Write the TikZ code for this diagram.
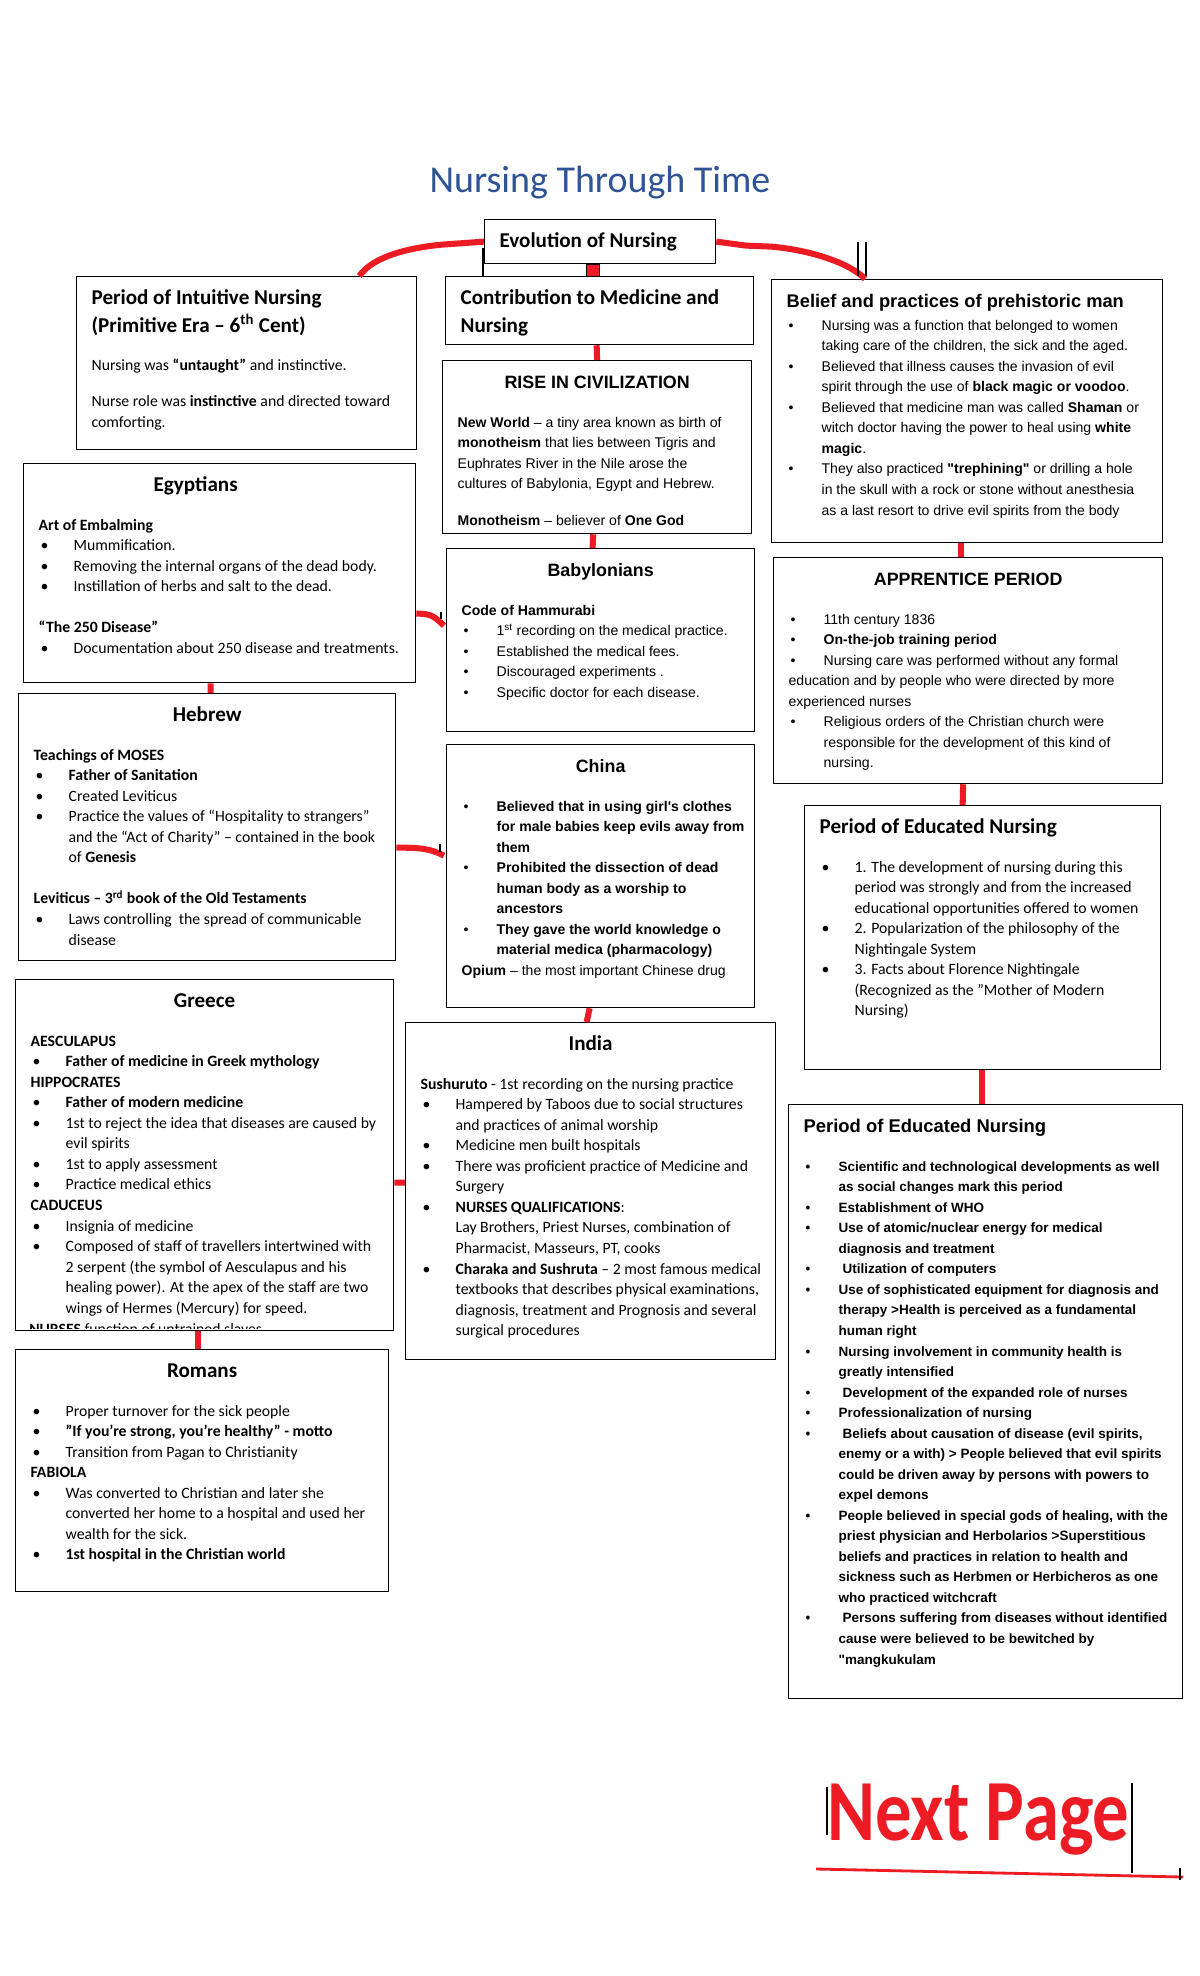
\documentclass[tikz,border=0pt]{standalone}
\usepackage{fontspec}
\usepackage{graphicx}
\setmainfont{Carlito}
\newfontfamily\widefont{Liberation Sans}
\usetikzlibrary{calc}
\definecolor{penred}{HTML}{ED1C24}
\definecolor{titleblue}{HTML}{2F5496}

% one reference pixel
\newdimen\pxu \pxu=0.025cm
\newdimen\padX \padX=15\pxu
\newdimen\padY \padY=9\pxu
\newdimen\ttlgap \ttlgap=18\pxu
\newdimen\blankskip \blankskip=20.5\pxu

\newcommand\calibody{\fontsize{11.2}{14.6}\selectfont}
\newcommand\widebody{\widefont\fontsize{10}{14.6}\selectfont}
\newcommand\bigttl{\fontsize{15}{19.4}\selectfont}
\newcommand\wdttl{\fontsize{12.7}{19.4}\selectfont}

% fixed-size panel text: width, height (px), lines
\newcommand\panelin[3]{\parbox[c][\dimexpr#2\pxu-2\padY\relax][t]{\dimexpr#1\pxu-2\padX\relax}{%
  \hbox to\linewidth{\vtop{\hsize=\dimexpr\linewidth+80\pxu\relax\raggedright#3\par}\hss}}}
\newcommand\panelhead[2][\bigttl]{{\hsize=\linewidth\bfseries#1\rule{0pt}{0.7\baselineskip}#2\par}}
\newcommand\panelchead[2][\bigttl]{{\hsize=\linewidth\centering\bfseries#1\rule{0pt}{0.7\baselineskip}#2\par}}
\newcommand\panelttl[2][\bigttl]{\panelhead[#1]{#2}\vskip\ttlgap}
\newcommand\panelcttl[2][\bigttl]{\panelchead[#1]{#2}\vskip\ttlgap}
\newcommand\bul{\makebox[35\pxu][l]{\hspace{2\pxu}\textbullet}}
\newcommand\cont{\hspace*{35\pxu}}

\tikzset{
  panel/.style={draw=black, line width=0.9pt, fill=white, anchor=north west,
                inner xsep=\padX, inner ysep=\padY, font=\calibody},
  widepanel/.style={panel, font=\widebody},
  redlink/.style={draw=penred, line width=4.3pt},
  cursorline/.style={draw=black, line width=0.8pt},
}

\begin{document}
\begin{tikzpicture}[x=0.025cm, y=-0.025cm]
\fill[white] (0,0) rectangle (1200,1976);
\useasboundingbox (0,0) rectangle (1200,1976);

% ── Title ─────────────────────────────────────────────
\node[font=\fontsize{27}{32}\selectfont, text=titleblue] (title) at (600,183) {Nursing Through Time};

% ── Top row ───────────────────────────────────────────
\node[panel] (evo) at (484,219) {\panelin{231}{44}{\panelhead{Evolution of Nursing}}};

\node[panel] (intuitive) at (76,276) {\panelin{340}{173}{%
  \panelttl{Period of Intuitive Nursing\\(Primitive Era – 6\textsuperscript{th} Cent)}
  Nursing was \textbf{“untaught”} and instinctive.\\[15.5\pxu]
  Nurse role was \textbf{instinctive} and directed toward\\
  comforting.}};

\node[panel] (contrib) at (445,276) {\panelin{308}{68}{%
  \panelhead{Contribution to Medicine and\\Nursing}}};

\node[widepanel] (belief) at (771,279) {\panelin{391}{263}{%
  \panelhead[\fontsize{13}{19.4}\selectfont]{Belief and practices of prehistoric man}\vskip2\pxu
  \bul Nursing was a function that belonged to women\\
  \cont taking care of the children, the sick and the aged.\\
  \bul Believed that illness causes the invasion of evil\\
  \cont spirit through the use of \textbf{black magic or voodoo}.\\
  \bul Believed that medicine man was called \textbf{Shaman} or\\
  \cont witch doctor having the power to heal using \textbf{white}\\
  \cont \textbf{magic}.\\
  \bul They also practiced \textbf{"trephining"} or drilling a hole\\
  \cont in the skull with a rock or stone without anesthesia\\
  \cont as a last resort to drive evil spirits from the body}};

% ── Middle column ─────────────────────────────────────
\node[widepanel] (rise) at (442,360) {\panelin{309}{173}{%
  \panelcttl[\wdttl]{RISE IN CIVILIZATION}
  \textbf{New World} – a tiny area known as birth of\\
  \textbf{monotheism} that lies between Tigris and\\
  Euphrates River in the Nile arose the\\
  cultures of Babylonia, Egypt and Hebrew.\\[16.5\pxu]
  \textbf{Monotheism} – believer of \textbf{One God}}};

\node[widepanel] (babylon) at (446,548) {\panelin{308}{183}{%
  \panelcttl[\wdttl]{Babylonians}
  \textbf{Code of Hammurabi}\\
  \bul 1\textsuperscript{st} recording on the medical practice.\\
  \bul Established the medical fees.\\
  \bul Discouraged experiments .\\
  \bul Specific doctor for each disease.}};

\node[widepanel] (china) at (446,744) {\panelin{308}{263}{%
  \panelcttl[\wdttl]{China}
  \bul \textbf{Believed that in using girl's clothes}\\
  \cont \textbf{for male babies keep evils away from}\\
  \cont \textbf{them}\\
  \bul \textbf{Prohibited the dissection of dead}\\
  \cont \textbf{human body as a worship to}\\
  \cont \textbf{ancestors}\\
  \bul \textbf{They gave the world knowledge o}\\
  \cont \textbf{material medica (pharmacology)}\\
  \textbf{Opium} – the most important Chinese drug}};

\node[panel] (india) at (405,1022) {\panelin{370}{337}{%
  \panelcttl{India}
  \textbf{Sushuruto} - 1st recording on the nursing practice\\
  \bul Hampered by Taboos due to social structures\\
  \cont and practices of animal worship\\
  \bul Medicine men built hospitals\\
  \bul There was proficient practice of Medicine and\\
  \cont Surgery\\
  \bul \textbf{NURSES QUALIFICATIONS}:\\
  \cont Lay Brothers, Priest Nurses, combination of\\
  \cont Pharmacist, Masseurs, PT, cooks\\
  \bul \textbf{Charaka and Sushruta} – 2 most famous medical\\
  \cont textbooks that describes physical examinations,\\
  \cont diagnosis, treatment and Prognosis and several\\
  \cont surgical procedures}};

% ── Left column ───────────────────────────────────────
\node[panel] (egypt) at (23,463) {\panelin{392}{219}{%
  \panelcttl{Egyptians\hspace*{48\pxu}}
  \textbf{Art of Embalming}\\
  \bul Mummification.\\
  \bul Removing the internal organs of the dead body.\\
  \bul Instillation of herbs and salt to the dead.\\[\blankskip]
  \textbf{“The 250 Disease”}\\
  \bul Documentation about 250 disease and treatments.}};

\node[panel] (hebrew) at (18,693) {\panelin{377}{267}{%
  \panelcttl{Hebrew}
  \textbf{Teachings of MOSES}\\
  \bul \textbf{Father of Sanitation}\\
  \bul Created Leviticus\\
  \bul Practice the values of “Hospitality to strangers”\\
  \cont and the “Act of Charity” – contained in the book\\
  \cont of \textbf{Genesis}\\[\blankskip]
  \textbf{Leviticus – 3\textsuperscript{rd} book of the Old Testaments}\\
  \bul Laws controlling\ \ the spread of communicable\\
  \cont disease}};

\node[panel] (greece) at (15,979) {\panelin{378}{351}{%
  \panelcttl{Greece}
  \textbf{AESCULAPUS}\\
  \bul \textbf{Father of medicine in Greek mythology}\\
  \textbf{HIPPOCRATES}\\
  \bul \textbf{Father of modern medicine}\\
  \bul 1st to reject the idea that diseases are caused by\\
  \cont evil spirits\\
  \bul 1st to apply assessment\\
  \bul Practice medical ethics\\
  \textbf{CADUCEUS}\\
  \bul Insignia of medicine\\
  \bul Composed of staff of travellers intertwined with\\
  \cont 2 serpent (the symbol of Aesculapus and his\\
  \cont healing power). At the apex of the staff are two\\
  \cont wings of Hermes (Mercury) for speed.}};

% cut-off last line of Greece
\begin{scope}
  \clip ($(greece.south west)+(0,-3)$) rectangle (greece.north east);
  \node[anchor=base west, font=\calibody, inner sep=0pt] (nurses) at ($(greece.south west)+(14,3)$)
    {\textbf{NURSES} function of untrained slaves};
\end{scope}

\node[panel] (romans) at (15,1349) {\panelin{373}{242}{%
  \panelcttl{Romans}
  \bul Proper turnover for the sick people\\
  \bul \textbf{"If you're strong, you're healthy" - motto}\\
  \bul Transition from Pagan to Christianity\\
  \textbf{FABIOLA}\\
  \bul Was converted to Christian and later she\\
  \cont converted her home to a hospital and used her\\
  \cont wealth for the sick.\\
  \bul \textbf{1st hospital in the Christian world}}};

% ── Right column ──────────────────────────────────────
\node[widepanel] (apprent) at (773,557) {\panelin{389}{226}{%
  \panelcttl[\wdttl]{APPRENTICE PERIOD}
  \bul 11th century 1836\\
  \bul \textbf{On-the-job training period}\\
  \bul Nursing care was performed without any formal\\
  education and by people who were directed by more\\
  experienced nurses\\
  \bul Religious orders of the Christian church were\\
  \cont responsible for the development of this kind of\\
  \cont nursing.}};

\node[panel] (educ1) at (804,805) {\panelin{356}{264}{%
  \panelttl{Period of Educated Nursing}
  \bul 1. The development of nursing during this\\
  \cont period was strongly and from the increased\\
  \cont educational opportunities offered to women\\
  \bul 2. Popularization of the philosophy of the\\
  \cont Nightingale System\\
  \bul 3. Facts about Florence Nightingale\\
  \cont (Recognized as the "Mother of Modern\\
  \cont Nursing)}};

\node[widepanel] (educ2) at (788,1104) {\panelin{394}{594}{%
  \panelttl[\fontsize{13.1}{19.4}\selectfont]{Period of Educated Nursing}
  \bfseries\fontsize{9.6}{14.6}\selectfont
  \bul Scientific and technological developments as well\\
  \cont as social changes mark this period\\
  \bul Establishment of WHO\\
  \bul Use of atomic/nuclear energy for medical\\
  \cont diagnosis and treatment\\
  \bul\hspace{4\pxu}Utilization of computers\\
  \bul Use of sophisticated equipment for diagnosis and\\
  \cont therapy >Health is perceived as a fundamental\\
  \cont human right\\
  \bul Nursing involvement in community health is\\
  \cont greatly intensified\\
  \bul\hspace{4\pxu}Development of the expanded role of nurses\\
  \bul Professionalization of nursing\\
  \bul\hspace{4\pxu}Beliefs about causation of disease (evil spirits,\\
  \cont enemy or a with) > People believed that evil spirits\\
  \cont could be driven away by persons with powers to\\
  \cont expel demons\\
  \bul People believed in special gods of healing, with the\\
  \cont priest physician and Herbolarios >Superstitious\\
  \cont beliefs and practices in relation to health and\\
  \cont sickness such as Herbmen or Herbicheros as one\\
  \cont who practiced witchcraft\\
  \bul\hspace{4\pxu}Persons suffering from diseases without identified\\
  \cont cause were believed to be bewitched by\\
  \cont "mangkukulam}};

% ── Connectors ────────────────────────────────────────
% from the top box, both sides
\draw[redlink] (evo.west) -- ($(evo.west)+(-42,3)$)
  .. controls ($(evo.west)+(-74,6)$) and ($(intuitive.north east)+(-44,-20)$) .. ($(intuitive.north east)+(-58,0)$);
\draw[redlink] (evo.east) -- ($(evo.east)+(30,4)$) -- ($(evo.east)+(55,5)$)
  .. controls ($(belief.north west)+(39,-29)$) and ($(belief.north west)+(79,-16)$) .. ($(belief.north west)+(94,0)$);
\draw[fill=penred, draw=black, line width=0.6pt] ($(evo.south)+(-14,0)$) rectangle (contrib.north);

% middle chain
\draw[redlink] ($(contrib.south)+(-3,0)$) -- (rise.north);
\draw[redlink] ($(rise.south)+(-4,0)$) -- ($(babylon.north)+(-8,0)$);
\draw[redlink] ($(china.south)+(-11,0)$) -- ($(india.north)+(-4,0)$);

% right chain
\draw[redlink] ($(belief.south)+(-6,0)$) -- ($(apprent.north)+(-7,0)$);
\draw[redlink] ($(apprent.south)+(-5,0)$) -- ($(educ1.north)+(-20,0)$);
\draw[redlink] ($(educ1.south)+(-1,0)$) -- ($(educ2.north)+(-4,0)$);

% left chain
\draw[redlink] ($(egypt.south)+(-9,0)$) -- ($(hebrew.north)+(3.5,0)$);
\draw[redlink] ($(greece.south)+(-7,0)$) -- ($(romans.north)+(-4.5,0)$);
\draw[redlink] ($(greece.east)+(0,27.5)$) -- ($(india.west)+(0,-8.5)$);

% across
\draw[redlink] ($(egypt.east)+(0,40.5)$) .. controls +(16,0) and +(-10,-9) .. ($(babylon.west)+(-2,-14.5)$);
\draw[redlink] ($(hebrew.east)+(0,20.5)$) .. controls +(25,0) and +(-14,-7) .. ($(china.west)+(-2,-20.5)$);

% stray cursor marks
\draw[cursorline] ($(evo.south west)+(-1,-16)$) -- ($(evo.south west)+(-1,12)$);
\draw[cursorline] ($(belief.north west)+(87,-37)$) -- ($(belief.north west)+(87,-3)$);
\draw[cursorline] ($(belief.north west)+(95,-37)$) -- ($(belief.north west)+(95,-3)$);
\draw[cursorline] ($(babylon.west)+(-5,-28)$) -- ($(babylon.west)+(-5,-21)$);
\draw[cursorline] ($(china.west)+(-6,-32)$) -- ($(china.west)+(-6,-24)$);

% ── Next page note ────────────────────────────────────
\node[text=penred, font=\bfseries\fontsize{62}{62}\selectfont, anchor=base west, inner sep=0pt]
  (nextpage) at (827,1840) {\scalebox{0.835}[1]{Next Page}};
\coordinate (ulstart) at (816,1869);
\coordinate (ulend) at (1183,1877);
\draw[penred, line width=2pt] (ulstart) -- (ulend);
\draw[cursorline] ($(nextpage.base west)+(0,-53)$) -- ($(nextpage.base west)+(0,-5)$);
\draw[cursorline] ($(nextpage.base west)+(305,-57)$) -- ($(nextpage.base west)+(305,33)$);
\draw[cursorline] ($(ulend)+(-3,-9)$) -- ($(ulend)+(-3,3)$);

\end{tikzpicture}
\end{document}
